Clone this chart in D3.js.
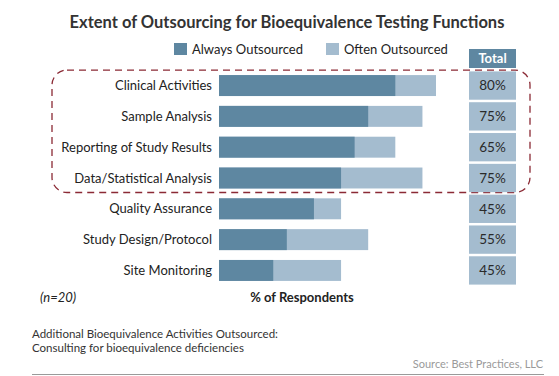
<!DOCTYPE html>
<html>
<head>
<meta charset="utf-8">
<script src="https://cdn.jsdelivr.net/npm/d3@7"></script>
<style>
  body { margin: 0; background: #fff; }
  text { font-family: Lato, "Open Sans", sans-serif; }
</style>
</head>
<body>
<script>
const categories = [
    "Clinical Activities",
    "Sample Analysis",
    "Reporting of Study Results",
    "Data/Statistical Analysis",
    "Quality Assurance",
    "Study Design/Protocol",
    "Site Monitoring"
];
const always = [65, 55, 50, 45, 35, 25, 20];
const often = [15, 20, 15, 30, 10, 30, 25];
const totals = [80, 75, 65, 75, 45, 55, 45];
const highlighted = categories.slice(0, 4);

const dark = "#5e87a1";
const light = "#a4bccf";

const svg = d3.select("body").append("svg")
    .attr("width", 559)
    .attr("height", 376);

const rows = categories.map((c, i) => ({
    name: c,
    always: always[i],
    often: often[i],
    total: totals[i]
}));

const x = d3.scaleLinear()
    .domain([0, 80])
    .range([219, 436]);

const y = d3.scaleBand()
    .domain(categories)
    .range([70, 286])
    .paddingInner(0.32)
    .paddingOuter(0.165);

// title
svg.append("text")
    .attr("x", 287)
    .attr("y", 28)
    .attr("text-anchor", "middle")
    .attr("font-size", 16.5)
    .attr("font-weight", "bold")
    .attr("fill", "#333")
    .text("Extent of Outsourcing for Bioequivalence Testing Functions");

// legend
const legend = svg.append("g");
const legendItems = [
    { label: "Always Outsourced", color: dark, x: 174 },
    { label: "Often Outsourced", color: light, x: 326 }
];
legendItems.forEach((d) => {
    legend.append("rect")
        .attr("x", d.x)
        .attr("y", 43)
        .attr("width", 13)
        .attr("height", 12)
        .attr("fill", d.color);
    legend.append("text")
        .attr("x", d.x + 18)
        .attr("y", 53.5)
        .attr("font-size", 13)
        .attr("fill", "#222")
        .text(d.label);
});

// dashed highlight box
const boxTop = y(highlighted[0]) - 5;
const boxBottom = y(highlighted[highlighted.length - 1]) + y.bandwidth() + 4;
svg.append("rect")
    .attr("x", 52)
    .attr("y", boxTop)
    .attr("width", 478)
    .attr("height", boxBottom - boxTop)
    .attr("rx", 15)
    .attr("fill", "none")
    .attr("stroke", "#8b2a35")
    .attr("stroke-width", 1.3)
    .attr("stroke-dasharray", "7,5");

// bars
const bars = svg.append("g")
    .selectAll("g")
    .data(rows)
    .enter()
    .append("g");

bars.append("rect")
    .attr("x", x(0))
    .attr("y", (d) => y(d.name))
    .attr("width", (d) => x(d.always + d.often) - x(0))
    .attr("height", y.bandwidth())
    .attr("fill", light);

bars.append("rect")
    .attr("x", x(0))
    .attr("y", (d) => y(d.name))
    .attr("width", (d) => x(d.always) - x(0))
    .attr("height", y.bandwidth())
    .attr("fill", dark);

// category labels
bars.append("text")
    .attr("x", 212)
    .attr("y", (d) => y(d.name) + y.bandwidth() / 2)
    .attr("dy", "0.35em")
    .attr("text-anchor", "end")
    .attr("font-size", 13)
    .attr("fill", "#222")
    .text((d) => d.name);

// total column
const colX = 469, colW = 47;
svg.append("rect")
    .attr("x", colX)
    .attr("y", 49)
    .attr("width", colW)
    .attr("height", 19)
    .attr("fill", dark);
svg.append("text")
    .attr("x", colX + colW / 2)
    .attr("y", 63)
    .attr("text-anchor", "middle")
    .attr("font-size", 13)
    .attr("font-weight", "bold")
    .attr("fill", "#fff")
    .text("Total");

const cellH = y.step() - 2.5;
bars.append("rect")
    .attr("x", colX)
    .attr("y", (d) => y(d.name) + y.bandwidth() / 2 - cellH / 2)
    .attr("width", colW)
    .attr("height", cellH)
    .attr("fill", light);

bars.append("text")
    .attr("x", colX + colW / 2)
    .attr("y", (d) => y(d.name) + y.bandwidth() / 2)
    .attr("dy", "0.36em")
    .attr("text-anchor", "middle")
    .attr("font-size", 13.5)
    .attr("fill", "#2a2a2a")
    .text((d) => d.total + "%");

// footer
svg.append("text")
    .attr("x", 40)
    .attr("y", 302)
    .attr("font-size", 13)
    .attr("font-style", "italic")
    .attr("fill", "#222")
    .text("(n=20)");

svg.append("text")
    .attr("x", 302)
    .attr("y", 302)
    .attr("text-anchor", "middle")
    .attr("font-size", 13)
    .attr("font-weight", "bold")
    .attr("fill", "#222")
    .text("% of Respondents");

svg.append("text")
    .attr("x", 32)
    .attr("y", 338)
    .attr("font-size", 11.5)
    .attr("fill", "#333")
    .text("Additional Bioequivalence Activities Outsourced:");
svg.append("text")
    .attr("x", 32)
    .attr("y", 352)
    .attr("font-size", 11.5)
    .attr("fill", "#333")
    .text("Consulting for bioequivalence deficiencies");

svg.append("text")
    .attr("x", 543)
    .attr("y", 368)
    .attr("text-anchor", "end")
    .attr("font-size", 11)
    .attr("fill", "#9a9a9a")
    .text("Source: Best Practices, LLC");

svg.append("line")
    .attr("x1", 32)
    .attr("x2", 544)
    .attr("y1", 374.5)
    .attr("y2", 374.5)
    .attr("stroke", "#9a9a9a")
    .attr("stroke-width", 1);
</script>
</body>
</html>
